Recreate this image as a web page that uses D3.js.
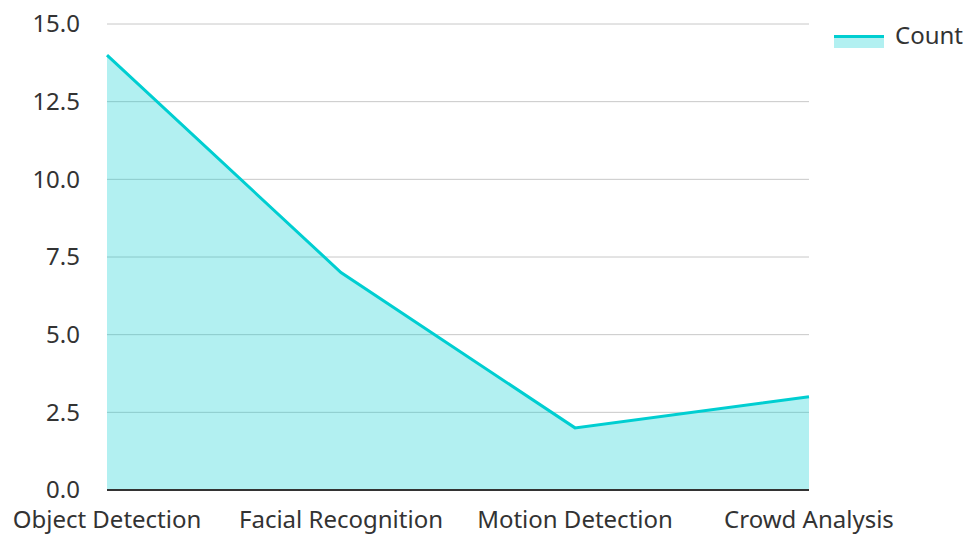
<!DOCTYPE html>
<html>
<head>
<meta charset="utf-8">
<script src="https://cdn.jsdelivr.net/npm/d3@7"></script>
<style>
  body { margin: 0; background: #fff; }
  text { font-family: "Noto Sans", sans-serif; fill: #333; }
</style>
</head>
<body>
<div id="chart"></div>
<script>
const categories = ["Object Detection", "Facial Recognition", "Motion Detection", "Crowd Analysis"];
const counts = [14, 7, 2, 3];
const yTicks = [0, 2.5, 5, 7.5, 10, 12.5, 15];
const seriesName = "Count";

const width = 967, height = 534;
const margin = { top: 24, right: 158, bottom: 44, left: 107 };
const innerW = width - margin.left - margin.right;
const innerH = height - margin.top - margin.bottom;
const lineColor = "#00CED1";
const fontSize = "24px";

const svg = d3.select("#chart").append("svg")
  .attr("width", width).attr("height", height);
const g = svg.append("g").attr("transform", `translate(${margin.left},${margin.top})`);

const x = d3.scalePoint().domain(categories).range([0, innerW]);
const y = d3.scaleLinear().domain([0, 15]).range([innerH, 0]);

// grid
g.append("g").selectAll("line").data(yTicks.filter(d => d > 0)).join("line")
  .attr("x1", 0).attr("x2", innerW)
  .attr("y1", d => y(d)).attr("y2", d => y(d))
  .attr("stroke", "#c8c8c8").attr("stroke-width", 1);

const data = categories.map((c, i) => ({ c, v: counts[i] }));

g.append("path").datum(data)
  .attr("fill", lineColor).attr("fill-opacity", 0.3)
  .attr("d", d3.area().x(d => x(d.c)).y0(innerH).y1(d => y(d.v)));

g.append("path").datum(data)
  .attr("fill", "none").attr("stroke", lineColor).attr("stroke-width", 3)
  .attr("d", d3.line().x(d => x(d.c)).y(d => y(d.v)));

// y axis labels
g.append("g").selectAll("text").data(yTicks).join("text")
  .attr("x", -27).attr("y", d => y(d)).attr("dy", "0.35em")
  .attr("text-anchor", "end").style("font-size", fontSize)
  .text(d => d.toFixed(1));

// x axis baseline
g.append("line").attr("x1", 0).attr("x2", innerW)
  .attr("y1", innerH).attr("y2", innerH)
  .attr("stroke", "#333").attr("stroke-width", 2);

g.append("g").selectAll("text").data(categories).join("text")
  .attr("x", d => x(d)).attr("y", innerH + 38)
  .attr("text-anchor", "middle").style("font-size", fontSize)
  .text(d => d);

// legend
const lg = svg.append("g").attr("transform", "translate(834,35)");
lg.append("rect").attr("x", 0).attr("y", 0).attr("width", 50).attr("height", 13)
  .attr("fill", lineColor).attr("fill-opacity", 0.3);
lg.append("line").attr("x1", 0).attr("x2", 50).attr("y1", 1.5).attr("y2", 1.5)
  .attr("stroke", lineColor).attr("stroke-width", 3);
lg.append("text").attr("x", 61).attr("y", 1).attr("dy", "0.35em")
  .style("font-size", fontSize).text(seriesName);
</script>
</body>
</html>
